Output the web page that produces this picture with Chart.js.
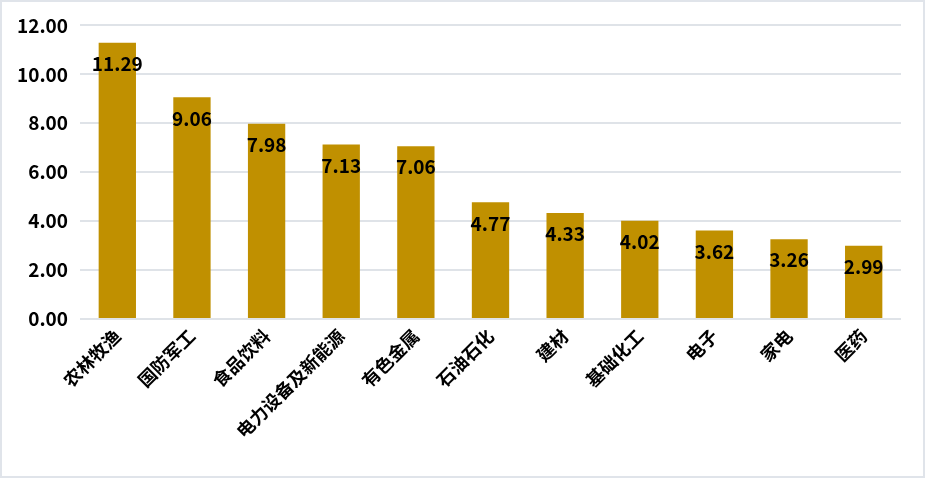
<!DOCTYPE html>
<html><head><meta charset="utf-8">
<script src="https://cdn.jsdelivr.net/npm/chart.js@4/dist/chart.umd.min.js"></script>
<style>
html,body{margin:0;padding:0;background:#fff;}
#wrap{width:925px;height:478px;box-sizing:border-box;border:2px solid #e0e4ea;position:relative;}
canvas{display:block;}
</style></head><body>
<div id="wrap"><canvas id="c" width="921" height="474"></canvas></div>
<script>
const categories = ["农林牧渔","国防军工","食品饮料","电力设备及新能源","有色金属","石油石化","建材","基础化工","电子","家电","医药"];
const values = [11.29, 9.06, 7.98, 7.13, 7.06, 4.77, 4.33, 4.02, 3.62, 3.26, 2.99];
const yTicks = [0, 2, 4, 6, 8, 10, 12];

const FONT = '"Noto Sans CJK SC", "Microsoft YaHei", sans-serif';

const labelPlugin = {
  id: 'valLabels',
  afterDatasetsDraw(chart) {
    const ctx = chart.ctx;
    const meta = chart.getDatasetMeta(0);
    ctx.save();
    ctx.font = 'bold 19px ' + FONT;
    ctx.fillStyle = '#000';
    ctx.textAlign = 'center';
    ctx.textBaseline = 'middle';
    meta.data.forEach((el, i) => {
      ctx.fillText(values[i].toFixed(2), el.x, el.y + 21);
    });
    ctx.restore();
  }
};

new Chart(document.getElementById('c'), {
  type: 'bar',
  data: {
    labels: categories,
    datasets: [{
      data: values,
      backgroundColor: '#C09000',
      barPercentage: 0.5,
      categoryPercentage: 1.0
    }]
  },
  options: {
    responsive: false,
    animation: false,
    devicePixelRatio: 1,
    layout: { padding: { top: 22, right: 22, left: 0, bottom: 0 } },
    plugins: { legend: { display: false }, tooltip: { enabled: false } },
    scales: {
      x: {
        grid: { display: false, drawTicks: false },
        border: { display: false },
        ticks: {
          color: '#000',
          font: { family: FONT, size: 18, weight: 'bold' },
          minRotation: 45, maxRotation: 45,
          padding: 6,
          autoSkip: false
        },
        afterFit(s) { s.height = 157; }
      },
      y: {
        min: 0, max: 12,
        afterBuildTicks(s) { s.ticks = yTicks.map(v => ({ value: v })); },
        grid: { color: '#dfe3e8', lineWidth: 2, drawTicks: false },
        border: { display: false },
        ticks: {
          color: '#000',
          font: { family: FONT, size: 19, weight: 'bold' },
          padding: 12,
          callback: v => Number(v).toFixed(2)
        },
        afterFit(s) { s.width = 78; }
      }
    }
  },
  plugins: [labelPlugin]
});
</script>
</body></html>
